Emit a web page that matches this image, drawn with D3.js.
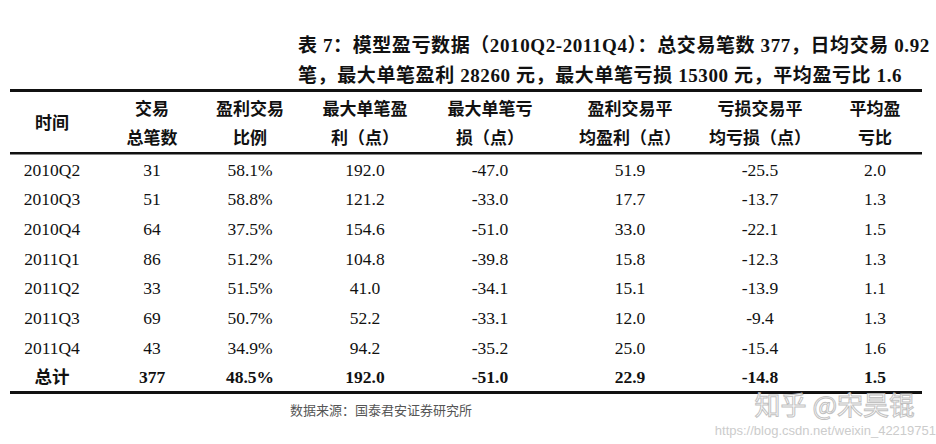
<!DOCTYPE html>
<html><head><meta charset="utf-8">
<script src="https://cdn.jsdelivr.net/npm/d3@7"></script>
<style>body{margin:0;background:#fff}</style>
</head><body>
<script>
// table data
var periods = ["2010Q2","2010Q3","2010Q4","2011Q1","2011Q2","2011Q3","2011Q4"];
var tradeCount = ["31","51","64","86","33","69","43"];
var winRatio = ["58.1%","58.8%","37.5%","51.2%","51.5%","50.7%","34.9%"];
var maxWin = ["192.0","121.2","154.6","104.8","41.0","52.2","94.2"];
var maxLoss = ["-47.0","-33.0","-51.0","-39.8","-34.1","-33.1","-35.2"];
var avgWin = ["51.9","17.7","33.0","15.8","15.1","12.0","25.0"];
var avgLoss = ["-25.5","-13.7","-22.1","-12.3","-13.9","-9.4","-15.4"];
var pnlRatio = ["2.0","1.3","1.5","1.3","1.1","1.3","1.6"];
var totalRow = ["总计","377","48.5%","192.0","-51.0","22.9","-14.8","1.5"];
var headers = [["时间"],["交易","总笔数"],["盈利交易","比例"],["最大单笔盈","利（点）"],["最大单笔亏","损（点）"],["盈利交易平","均盈利（点）"],["亏损交易平","均亏损（点）"],["平均盈","亏比"]];
var titleLines = ["表 7：模型盈亏数据（2010Q2-2011Q4）：总交易笔数 377，日均交易 0.92","笔，最大单笔盈利 28260 元，最大单笔亏损 15300 元，平均盈亏比 1.6"];

var W = 936, H = 444;
var font = "'Liberation Serif','Noto Sans CJK SC',serif";
var svg = d3.select("body").append("svg").attr("width", W).attr("height", H);

var colX = [52,152,250,365,490,630,760,875];
var rows = periods.map(function(p,i){ return [p,tradeCount[i],winRatio[i],maxWin[i],maxLoss[i],avgWin[i],avgLoss[i],pnlRatio[i]]; });
rows.push(totalRow);

var y = d3.scaleBand().domain(d3.range(rows.length)).range([155, 392]);

// title
svg.selectAll(".title").data(titleLines).enter().append("text")
  .attr("x", 298).attr("y", function(d,i){ return 52 + i*30; })
  .style("font-family", font).style("font-size", "19px").style("font-weight", "bold")
  .style("letter-spacing", "0.6px")
  .attr("fill", "#111").text(function(d){ return d; });

// rules
svg.append("rect").attr("x",10).attr("y",89).attr("width",912).attr("height",3).attr("fill","#111");
svg.append("rect").attr("x",10).attr("y",152).attr("width",912).attr("height",2.5).attr("fill","#111");
svg.append("rect").attr("x",10).attr("y",391).attr("width",912).attr("height",3).attr("fill","#111");

// headers
headers.forEach(function(h,c){
  h.forEach(function(t,k){
    svg.append("text").attr("x", colX[c])
      .attr("y", h.length==1 ? 129 : 115 + k*29)
      .attr("text-anchor","middle")
      .style("font-family", font).style("font-size","17px").style("font-weight","bold")
      .attr("fill","#111").text(t);
  });
});

// body
rows.forEach(function(r,i){
  var total = i == rows.length-1;
  svg.selectAll(".r"+i).data(r).enter().append("text")
    .attr("x", function(d,c){ return colX[c]; })
    .attr("y", y(i) + y.bandwidth()/2 + 6)
    .attr("text-anchor","middle")
    .style("font-family", font).style("font-size","17.5px")
    .style("font-weight", total ? "bold" : "normal")
    .attr("fill","#111").text(function(d){ return d; });
});

// source
svg.append("text").attr("x",290).attr("y",415)
  .style("font-family", font).style("font-size","13px").attr("fill","#555")
  .text("数据来源：国泰君安证券研究所");

// watermarks
svg.append("text").attr("x",915).attr("y",415).attr("text-anchor","end")
  .style("font-family","'Noto Sans CJK SC',sans-serif").style("font-size","26px")
  .attr("fill","#fff").attr("stroke","#bbb").attr("stroke-width",1).attr("opacity",0.9)
  .text("知乎 @宋昊锟");
svg.append("text").attr("x",936).attr("y",435).attr("text-anchor","end")
  .style("font-family","'Liberation Sans',sans-serif").style("font-size","13px")
  .attr("fill","#ccc").text("https://blog.csdn.net/weixin_42219751");
</script>
</body></html>
